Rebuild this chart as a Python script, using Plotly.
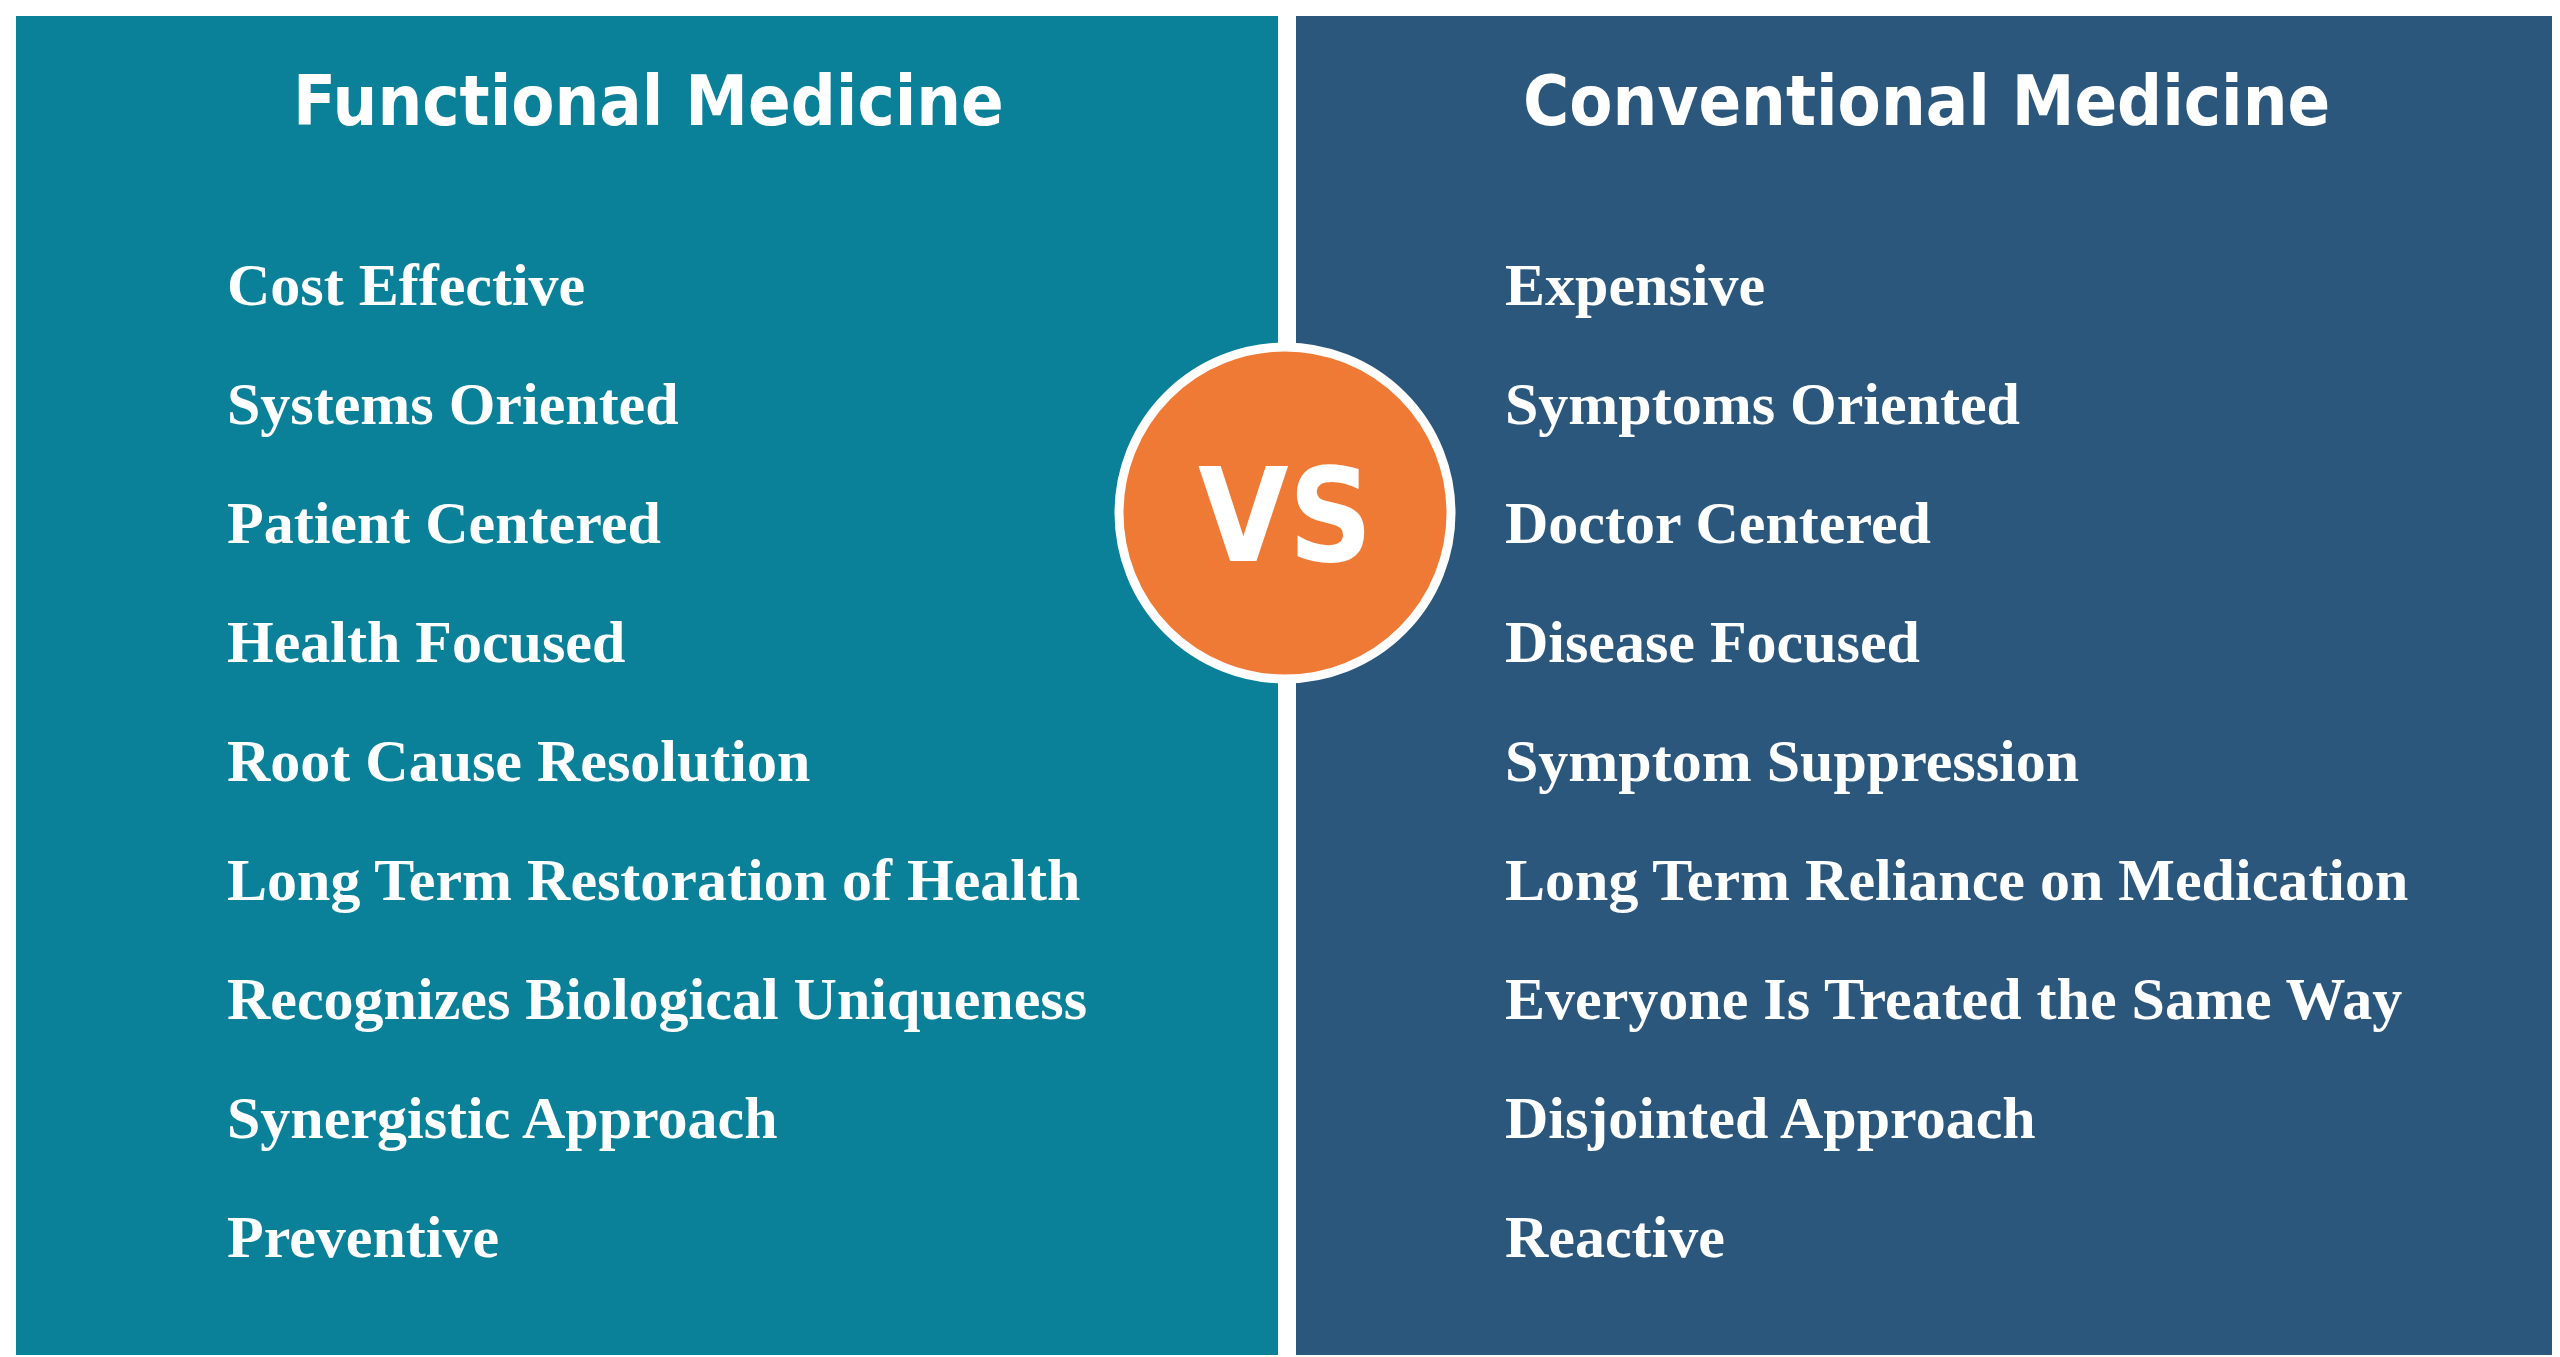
import plotly.graph_objects as go

left_title = "Functional Medicine"
right_title = "Conventional Medicine"
left_items = ["Cost Effective", "Systems Oriented", "Patient Centered", "Health Focused",
              "Root Cause Resolution", "Long Term Restoration of Health",
              "Recognizes Biological Uniqueness", "Synergistic Approach", "Preventive"]
right_items = ["Expensive", "Symptoms Oriented", "Doctor Centered", "Disease Focused",
               "Symptom Suppression", "Long Term Reliance on Medication",
               "Everyone Is Treated the Same Way", "Disjointed Approach", "Reactive"]
row_y = [282 + 119 * i for i in range(len(left_items))]

W, H = 2560, 1357
teal, navy, orange = "#0b8199", "#2c577d", "#ef7a35"
serif = dict(family="Liberation Serif, DejaVu Serif, serif", size=60, color="white")
cond = "DejaVu Sans Condensed, Liberation Sans Narrow, sans-serif"

fig = go.Figure()
fig.add_shape(type="rect", x0=8, x1=1270, y0=8, y1=1347, fillcolor=teal, line_width=0, layer="below")
fig.add_shape(type="rect", x0=1288, x1=2551, y0=8, y1=1347, fillcolor=navy, line_width=0, layer="below")

fig.add_trace(go.Scatter(x=[219] * len(left_items), y=row_y, mode="text",
                         text=["<b>" + t + "</b>" for t in left_items],
                         textposition="middle right", textfont=serif, hoverinfo="skip"))
fig.add_trace(go.Scatter(x=[1497] * len(right_items), y=row_y, mode="text",
                         text=["<b>" + t + "</b>" for t in right_items],
                         textposition="middle right", textfont=serif, hoverinfo="skip"))

# VS badge
fig.add_shape(type="circle", x0=1277 - 166, x1=1277 + 166, y0=505 - 166, y1=505 + 166,
              fillcolor=orange, line=dict(color="white", width=9))

for x, t in [(640, left_title), (1918, right_title)]:
    fig.add_annotation(x=x, y=93, text="<b>" + t + "</b>", showarrow=False,
                       font=dict(family=cond, size=70, color="white"))
fig.add_annotation(x=1277, y=508, text="<b>VS</b>", showarrow=False,
                   font=dict(family=cond, size=130, color="white"))

fig.update_xaxes(range=[0, W], visible=False)
fig.update_yaxes(range=[H, 0], visible=False)
fig.update_layout(width=W, height=H, margin=dict(l=0, r=0, t=0, b=0),
                  plot_bgcolor="white", paper_bgcolor="white", showlegend=False)
fig.write_html("out.html")
